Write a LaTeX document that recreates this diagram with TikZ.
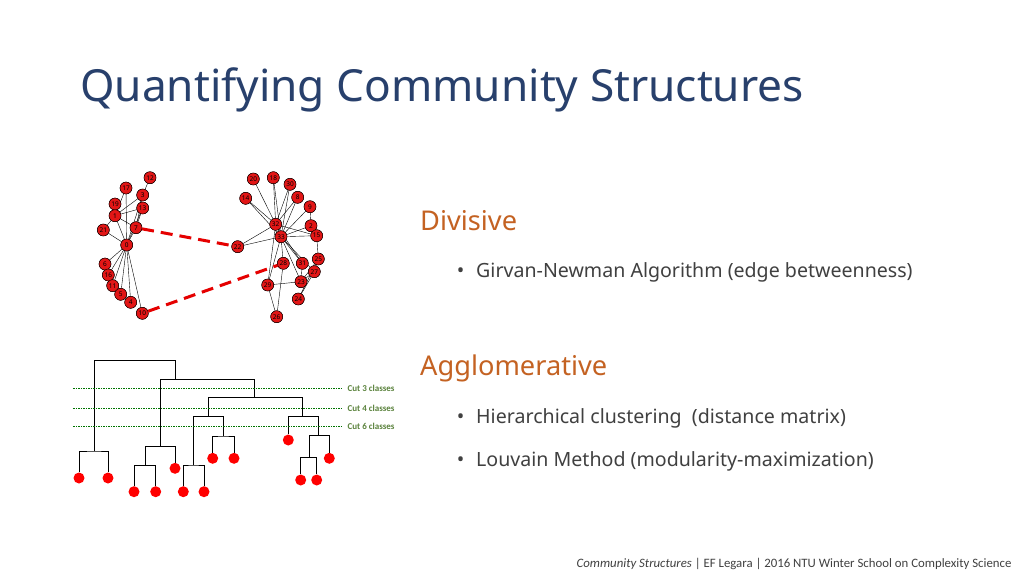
\documentclass[tikz,border=0pt]{standalone}
\usepackage{fontspec}
\setmainfont{Noto Sans}
\newfontfamily\footfont{Carlito}
\usetikzlibrary{positioning}
\definecolor{titleblue}{RGB}{40,64,108}
\definecolor{headorange}{RGB}{196,98,34}
\definecolor{textgray}{RGB}{64,64,64}
\definecolor{cutgreen}{RGB}{90,130,60}
\definecolor{nodered}{RGB}{226,22,22}

\begin{document}
\begin{tikzpicture}
  [x=1pt,y=-1pt,
   vertex/.style={circle,draw=black,line width=.4pt,fill=nodered,inner sep=0pt,
     minimum size=12pt,font=\fontsize{6.5}{6.5}\selectfont},
   leaf/.style={circle,fill=red,inner sep=0pt,minimum size=11pt},
   cutline/.style={draw=green!45!black,dash pattern=on 1.5pt off 1pt,line width=.6pt},
   cutlabel/.style={anchor=west,inner sep=0pt,text=cutgreen,
     font=\footfont\bfseries\fontsize{9}{9}\selectfont},
   splitedge/.style={draw=red!90!black,line width=3pt,dash pattern=on 12pt off 7pt},
   heading/.style={anchor=base west,inner sep=0pt,text=headorange,font=\fontsize{27.2}{27.2}\selectfont},
   item/.style={anchor=base west,inner sep=0pt,text=textgray,font=\fontsize{19.6}{19.6}\selectfont},
   dot/.style={anchor=base,inner sep=0pt,text=textgray,font=\fontsize{20}{20}\selectfont}]
  \useasboundingbox[fill=white] (0,0) rectangle (1024,576);

  \node[anchor=base west,inner sep=0pt,text=titleblue,font=\fontsize{44.2}{44.2}\selectfont]
    (title) at (80,101) {Quantifying Community Structures};

  % network, left group
  \node[vertex] (12) at (150,177.7) {12};
  \node[vertex] (17) at (126,188) {17};
  \node[vertex] (3) at (142.7,195) {3};
  \node[vertex] (19) at (115,204) {19};
  \node[vertex] (13) at (142.7,208) {13};
  \node[vertex] (1) at (115,215.7) {1};
  \node[vertex] (21) at (103.3,230) {21};
  \node[vertex] (7) at (136,227.7) {7};
  \node[vertex] (0) at (126.7,245) {0};
  \node[vertex] (6) at (105,264) {6};
  \node[vertex] (16) at (108.3,275) {16};
  \node[vertex] (11) at (112.7,285.7) {11};
  \node[vertex] (5) at (120.7,294.3) {5};
  \node[vertex] (4) at (130.7,302.3) {4};
  \node[vertex] (10) at (142.3,313.3) {10};
  % network, right group
  \node[vertex] (20) at (253.3,179) {20};
  \node[vertex] (18) at (273.3,177.7) {18};
  \node[vertex] (30) at (290,184.3) {30};
  \node[vertex] (14) at (245.7,198.3) {14};
  \node[vertex] (8) at (297.7,197.3) {8};
  \node[vertex] (9) at (310,206.7) {9};
  \node[vertex] (32) at (275.7,224.3) {32};
  \node[vertex] (2) at (311,225.7) {2};
  \node[vertex] (33) at (281,236.7) {33};
  \node[vertex] (15) at (316.7,235.7) {15};
  \node[vertex] (22) at (237.7,246.7) {22};
  \node[vertex] (25) at (318.3,259) {25};
  \node[vertex] (28) at (283.3,263.3) {28};
  \node[vertex] (31) at (302.3,263.3) {31};
  \node[vertex] (27) at (314.3,271.7) {27};
  \node[vertex] (29) at (267.7,285) {29};
  \node[vertex] (23) at (301,281.7) {23};
  \node[vertex] (24) at (298.3,299) {24};
  \node[vertex] (26) at (276.7,316.7) {26};

  \foreach \from/\to in {12/3,17/1,17/0,3/1,3/7,3/0,13/1,13/7,13/0,19/1,1/21,1/0,1/7,
      21/0,7/0,0/6,0/16,0/11,0/5,0/4,0/10,
      20/32,18/32,18/33,14/32,14/33,30/32,30/33,8/32,8/33,9/33,9/2,2/33,2/15,15/33,
      15/32,22/32,22/33,32/33,32/31,33/31,33/28,33/23,33/29,33/27,32/29,28/26,
      29/23,29/26,23/25,23/27,24/27,24/25,25/27,15/25,31/23}
    \draw[line width=.4pt] (\from) -- (\to);
  % circles again, on top of the edges
  \foreach \n in {12,17,3,19,13,1,21,7,0,6,16,11,5,4,10,20,18,30,14,8,9,32,2,33,15,22,
      25,28,31,27,29,23,24,26}
    \node[vertex] at (\n) {\n};

  \draw[splitedge] (7) -- (22);
  \draw[splitedge] (10) -- (28);

  % dendrogram
  \node[leaf] (l1) at (79,478) {};
  \node[leaf] (l2) at (108,478) {};
  \node[leaf] (l3) at (134,491.7) {};
  \node[leaf] (l4) at (155.7,491.7) {};
  \node[leaf] (l5) at (175,468.3) {};
  \node[leaf] (l6) at (183.3,491.7) {};
  \node[leaf] (l7) at (204,491.7) {};
  \node[leaf] (l8) at (212.7,458.3) {};
  \node[leaf] (l9) at (234,458.3) {};
  \node[leaf] (l10) at (288.3,440) {};
  \node[leaf] (l11) at (300.7,480) {};
  \node[leaf] (l12) at (316.7,480) {};
  \node[leaf] (l13) at (329.3,458.3) {};

  \coordinate (root) at (135,360.7);
  \coordinate (ma) at (94.3,451);
  \coordinate (mb) at (175.7,379.3);
  \coordinate (mc) at (160,446.7);
  \coordinate (md) at (145.7,465.3);
  \coordinate (me) at (254.3,397.3);
  \coordinate (mf) at (208.3,416.7);
  \coordinate (mg) at (193.3,465);
  \coordinate (mh) at (223.3,436);
  \coordinate (mi) at (302.3,416.7);
  \coordinate (mj) at (318.3,435.7);
  \coordinate (mk) at (309.3,457.3);

  \begin{scope}[line width=.6pt]
    \draw (ma) |- (root) -| (mb);
    \draw (l1.north) |- (ma) -| (l2.north);
    \draw (mc) |- (mb) -| (me);
    \draw (md) |- (mc) -| (l5.north);
    \draw (l3.north) |- (md) -| (l4.north);
    \draw (mf) |- (me) -| (mi);
    \draw (mg) |- (mf) -| (mh);
    \draw (l6.north) |- (mg) -| (l7.north);
    \draw (l8.north) |- (mh) -| (l9.north);
    \draw (l10.north) |- (mi) -| (mj);
    \draw (mk) |- (mj) -| (l13.north);
    \draw (l11.north) |- (mk) -| (l12.north);
  \end{scope}

  \foreach \y/\k in {388.7/3,408.3/4,426.3/6}{
    \coordinate (cut\k) at (73.3,\y);
    \node[cutlabel] (lab\k) at (347.3,\y) {Cut \k\ classes};
    \draw[cutline] (cut\k) -- ([xshift=-4pt]lab\k.west);
  }

  % right column
  \node[heading] (div) at (420,230) {Divisive};
  \node[item] (gn) at (476,277.3) {Girvan-Newman Algorithm (edge betweenness)};
  \node[heading] (agg) at (420,375) {Agglomerative};
  \node[item] (hc) at (476,423.3) {Hierarchical clustering\ \ (distance matrix)};
  \node[item] (lm) at (476,466.7) {Louvain Method (modularity-maximization)};
  \foreach \t in {gn,hc,lm}
    \node[dot] at ([xshift=-15.3pt]\t.base west) {•};

  \node[anchor=base east,inner sep=0pt,text=textgray,font=\footfont\fontsize{12.8}{13}\selectfont]
    (foot) at (1011.7,567) {\textit{Community Structures} | EF Legara | 2016 NTU Winter School on Complexity Science};
\end{tikzpicture}
\end{document}
